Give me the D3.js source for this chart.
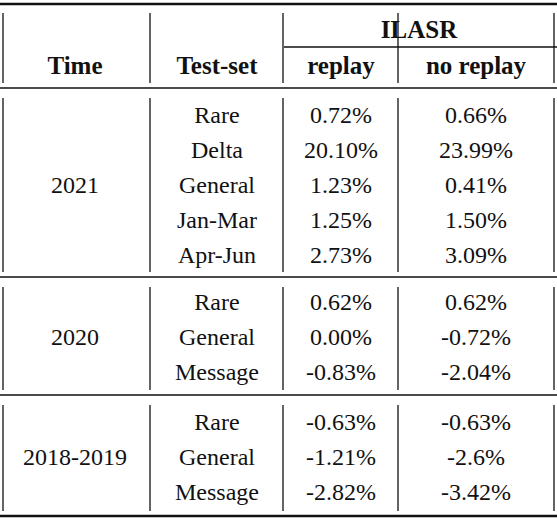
<!DOCTYPE html>
<html><head><meta charset="utf-8">
<script src="https://cdn.jsdelivr.net/npm/d3@7"></script>
<style>body{margin:0;background:#fff}</style>
</head><body><svg id="c" width="557" height="519"></svg>
<script>
const groups = ["2021","2020","2018-2019"];
const testSets = [["Rare","Delta","General","Jan-Mar","Apr-Jun"],["Rare","General","Message"],["Rare","General","Message"]];
const replay = [["0.72%","20.10%","1.23%","1.25%","2.73%"],["0.62%","0.00%","-0.83%"],["-0.63%","-1.21%","-2.82%"]];
const noReplay = [["0.66%","23.99%","0.41%","1.50%","3.09%"],["0.62%","-0.72%","-2.04%"],["-0.63%","-2.6%","-3.42%"]];
const headers = ["Time","Test-set","replay","no replay"];
const svg = d3.select("#c");
const colX = d3.scaleOrdinal().domain(headers).range([75,217,341,476]);
const vx = [3,150,283,398,554];
const groupStart = [115,302,422];
const rowY = d3.scaleLinear().domain([0,1]).range([0,35]);
const rules = [88,277,395,516];
const line = (x1,y1,x2,y2,w)=>svg.append("line").attr("x1",x1).attr("y1",y1).attr("x2",x2).attr("y2",y2).attr("stroke","#111").attr("stroke-width",w);
line(0,4,557,4,2.5);
rules.forEach((y,i)=>line(0,y,557,y,i===3?2.5:1.6));
line(284,47,557,47,1.3);
const segs=[[13,83]];
groups.forEach((g,i)=>segs.push([rules[i]+10,rules[i+1]-5]));
segs.forEach(([a,b])=>vx.forEach(x=>line(x,a,x,b,1.3)));
const txt=(x,y,s,b)=>svg.append("text").attr("x",x).attr("y",y).attr("text-anchor","middle").attr("dominant-baseline","central")
  .attr("font-family","'Liberation Serif','Times New Roman','DejaVu Serif',serif").attr("fill","#111")
  .attr("font-size",b?25:24).attr("font-weight",b?"bold":"normal").text(s);
txt(419,29,"ILASR",true);
headers.forEach(h=>txt(colX(h),65,h,true));
groups.forEach((g,gi)=>{
  const n=testSets[gi].length;
  txt(colX("Time"),groupStart[gi]+rowY((n-1)/2),g);
  testSets[gi].forEach((t,ri)=>{
    const y=groupStart[gi]+rowY(ri);
    txt(colX("Test-set"),y,t);
    txt(colX("replay"),y,replay[gi][ri]);
    txt(colX("no replay"),y,noReplay[gi][ri]);
  });
});
</script></body></html>
